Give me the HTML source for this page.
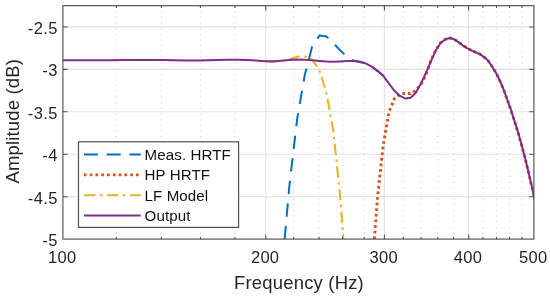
<!DOCTYPE html>
<html lang="en"><head><meta charset="utf-8"><title>HRTF amplitude plot</title>
<style>html,body{margin:0;padding:0;background:#fff;overflow:hidden}svg{display:block}</style>
</head><body>
<svg width="550" height="297" viewBox="0 0 550 297">
<rect width="550" height="297" fill="#fff"/>
<defs><clipPath id="ax"><rect x="62.90" y="5.70" width="471.00" height="233.40"/></clipPath></defs>
<path d="M265.75 5.70 V239.10 M384.41 5.70 V239.10 M468.60 5.70 V239.10 M62.90 26.92 H533.90 M62.90 69.35 H533.90 M62.90 111.79 H533.90 M62.90 154.23 H533.90 M62.90 196.66 H533.90" stroke="#e3e3e3" stroke-width="1.1" fill="none"/>
<path d="M116.26 239.55 V5.70 M161.37 239.55 V5.70 M200.45 239.55 V5.70 M234.92 239.55 V5.70 M293.64 239.55 V5.70 M319.10 239.55 V5.70 M342.53 239.55 V5.70 M364.22 239.55 V5.70 M403.29 239.55 V5.70 M421.04 239.55 V5.70 M437.76 239.55 V5.70 M453.59 239.55 V5.70 M482.88 239.55 V5.70 M496.49 239.55 V5.70 M509.50 239.55 V5.70 M521.95 239.55 V5.70" stroke="#d6d6d6" stroke-width="1.1" stroke-dasharray="1.3 4.38" fill="none"/>
<g clip-path="url(#ax)" fill="none" stroke-width="2.00" stroke-linejoin="round">
<path d="M281.33 276.00 L281.75 271.26 M282.58 261.98 L283.77 248.63 M284.60 239.35 L285.79 226.00 M286.61 216.72 L287.80 203.37 M288.63 194.09 L289.35 186.00 L289.96 180.75 M291.04 171.50 L292.59 158.19 M293.67 148.93 L295.22 135.62 M296.30 126.36 L297.15 119.00 L298.17 113.10 M299.76 103.91 L302.04 90.71 M303.63 81.53 L304.75 75.00 L306.47 68.44 M308.82 59.42 L312.16 46.60 L312.24 46.48 M317.36 38.69 L319.39 35.60 L326.44 36.40 L328.33 38.20 M334.95 44.76 L340.06 50.30 L344.32 54.32 M351.85 59.74 L353.07 60.50 L359.36 62.00 L364.74 63.14 M372.94 67.45 L377.47 70.85 L383.26 75.82" stroke="#0072bd"/>
<path d="M371.55 276.00 L371.58 275.65 M371.80 272.73 L372.01 270.04 M372.23 267.12 L372.43 264.42 M372.65 261.50 L372.86 258.81 M373.08 255.89 L373.28 253.20 M373.50 250.27 L373.71 247.58 M373.93 244.66 L374.13 241.97 M374.36 239.05 L374.56 236.35 M374.78 233.43 L374.99 230.74 M375.21 227.82 L375.41 225.13 M375.63 222.20 L375.84 219.51 M376.06 216.59 L376.26 213.90 M376.48 210.98 L376.69 208.28 M376.91 205.36 L377.11 202.67 M377.33 199.75 L377.47 198.00 L377.57 197.06 M377.89 194.15 L378.18 191.46 M378.50 188.55 L378.79 185.87 M379.11 182.95 L379.41 180.27 M379.72 177.36 L380.02 174.67 M380.34 171.76 L380.63 169.08 M380.95 166.16 L381.24 163.48 M381.56 160.57 L381.85 157.88 M382.17 154.97 L382.47 152.29 M382.78 149.37 L383.08 146.69 M383.47 143.79 L383.93 141.13 M384.43 138.24 L384.88 135.58 M385.38 132.69 L385.84 130.03 M386.34 127.14 L386.80 124.48 M387.29 121.59 L387.75 118.93 M388.25 116.05 L388.71 113.39 M389.53 110.59 L390.57 108.10 M391.69 105.39 L392.73 102.90 M393.86 100.20 L394.52 98.60 L395.26 97.97 M397.51 96.09 L399.57 94.35 M402.35 93.69 L405.03 93.34 M407.95 93.50 L410.63 93.70 L410.64 93.69 M413.09 92.09 L415.35 90.60 M417.38 88.52 L419.16 86.49 M421.04 84.25 L422.29 81.86 M423.66 79.26 L424.92 76.87 M426.17 74.23 L427.05 71.68 M428.00 68.91 L428.88 66.36 M429.84 63.59 L430.67 61.15 L430.73 61.04 M431.94 58.37 L433.05 55.91 M434.26 53.24 L435.37 50.78 M436.91 48.29 L438.36 46.01 M439.93 43.54 L440.27 43.02 L441.90 41.73 M444.19 39.91 L444.95 39.31 L446.60 38.78 M449.40 37.90 L449.56 37.85 L452.00 38.52 M454.71 39.53 L456.91 41.09 M459.30 42.79 L461.50 44.36 M463.91 46.02 L466.18 47.48 M468.72 48.94 L471.11 50.19 M473.78 51.41 L475.79 52.30 L476.25 52.50 M478.93 53.67 L479.94 54.11 L481.25 55.03 M483.65 56.72 L484.03 56.99 L485.70 58.47 M487.89 60.41 L488.07 60.57 L489.44 62.61 M491.07 65.05 L492.05 66.51 L492.54 67.31 M494.09 69.80 L495.52 72.09 M496.88 74.68 L498.05 77.11 M499.33 79.75 L499.85 80.83 L500.44 82.21 M501.58 84.91 L502.63 87.40 M503.76 90.10 L504.67 92.64 M505.66 95.40 L506.58 97.94 M507.57 100.70 L508.48 103.24 M509.47 106.00 L510.38 108.54 M511.35 111.30 L512.16 113.88 M513.04 116.67 L513.86 119.25 M514.74 122.04 L514.86 122.44 L515.55 124.62 M516.43 127.41 L517.23 129.99 M518.11 132.78 L518.50 134.01 L518.87 135.37 M519.64 138.20 L520.35 140.81 M521.11 143.63 L521.82 146.24 M522.58 149.07 L523.28 151.68 M524.03 154.51 L524.73 157.12 M525.48 159.95 L525.64 160.52 L526.12 162.57 M526.79 165.42 L527.41 168.05 M528.09 170.90 L528.71 173.53 M529.38 176.38 L529.98 179.01 M530.65 181.87 L531.25 184.50 M531.91 187.35 L532.52 189.98 M533.18 192.84 L533.78 195.47 M534.43 198.33 L535.03 200.96 M535.68 203.82 L536.03 205.34" stroke="#d95319" stroke-width="2.9"/>
<path d="M266.64 61.60 L273.09 61.90 L277.90 61.37 M282.26 60.83 L284.82 60.35 M289.19 59.53 L289.35 59.50 L297.15 56.80 L300.03 56.61 M304.42 56.32 L304.75 56.30 L306.82 57.22 M309.61 58.46 L312.16 59.60 L317.02 66.58 M319.46 70.23 L320.22 72.72 M321.53 76.97 L324.84 87.77 M326.13 91.98 L326.44 93.00 L326.72 94.51 M327.52 98.89 L329.56 110.00 M330.35 114.33 L330.82 116.89 M331.62 121.26 L333.33 130.60 L333.51 132.40 M333.96 136.78 L334.23 139.36 M334.69 143.79 L335.84 155.03 M336.29 159.41 L336.56 161.99 M337.01 166.42 L338.17 177.66 M338.62 182.04 L338.89 184.62 M339.34 189.05 L340.06 196.00 L340.39 200.30 M340.73 204.69 L340.93 207.28 M341.27 211.72 L342.14 222.98 M342.48 227.37 L342.68 229.96 M343.03 234.40 L343.90 245.67 M344.24 250.05 L344.44 252.64 M344.78 257.08 L345.65 268.35 M345.99 272.73 L346.19 275.33 M346.54 279.76 L346.63 281.00" stroke="#edb120"/>
<path d="M61.75 60.30 L78.48 60.26 L94.30 60.22 L109.32 60.17 L123.59 60.12 L137.21 60.08 L150.22 60.03 L162.67 60.04 L174.62 60.22 L186.10 60.39 L197.14 60.56 L207.78 60.37 L218.05 60.07 L227.97 59.78 L237.57 59.69 L246.86 59.92 L255.87 60.47 L264.60 61.17 L273.09 61.25 L281.33 60.66 L289.35 60.08 L297.15 59.51 L304.75 59.69 L312.16 60.31 L319.39 60.97 L326.44 61.57 L333.33 61.87 L340.06 61.50 L346.63 61.08 L353.07 60.92 L359.36 61.49 L365.52 63.33 L371.55 66.42 L377.47 70.85 L383.26 75.82 L388.94 83.62 L394.52 90.76 L399.99 95.95 L405.36 98.57 L410.63 97.69 L415.81 92.82 L420.90 83.57 L425.90 73.02 L430.82 61.30 L435.66 50.63 L440.42 43.17 L445.10 39.46 L449.71 38.00 L454.25 39.25 L458.72 42.41 L463.12 45.55 L467.45 48.35 L471.72 50.58 L475.94 52.45 L480.09 54.26 L484.18 57.14 L488.22 60.72 L492.20 66.66 L496.13 72.97 L500.00 80.98 L503.83 90.03 L507.60 100.53 L511.33 110.93 L515.01 122.59 L518.65 134.16 L522.24 147.37 L525.79 160.67 L529.29 175.52 L532.75 190.48 L536.18 205.49" stroke="#7e2f8e"/>
</g>
<path d="M265.75 239.10 v-4.70 M265.75 5.70 v4.70 M384.41 239.10 v-4.70 M384.41 5.70 v4.70 M468.60 239.10 v-4.70 M468.60 5.70 v4.70 M116.26 239.10 v-2.40 M116.26 5.70 v2.40 M161.37 239.10 v-2.40 M161.37 5.70 v2.40 M200.45 239.10 v-2.40 M200.45 5.70 v2.40 M234.92 239.10 v-2.40 M234.92 5.70 v2.40 M293.64 239.10 v-2.40 M293.64 5.70 v2.40 M319.10 239.10 v-2.40 M319.10 5.70 v2.40 M342.53 239.10 v-2.40 M342.53 5.70 v2.40 M364.22 239.10 v-2.40 M364.22 5.70 v2.40 M403.29 239.10 v-2.40 M403.29 5.70 v2.40 M421.04 239.10 v-2.40 M421.04 5.70 v2.40 M437.76 239.10 v-2.40 M437.76 5.70 v2.40 M453.59 239.10 v-2.40 M453.59 5.70 v2.40 M482.88 239.10 v-2.40 M482.88 5.70 v2.40 M496.49 239.10 v-2.40 M496.49 5.70 v2.40 M509.50 239.10 v-2.40 M509.50 5.70 v2.40 M521.95 239.10 v-2.40 M521.95 5.70 v2.40 M62.90 26.92 h4.70 M533.90 26.92 h-4.70 M62.90 69.35 h4.70 M533.90 69.35 h-4.70 M62.90 111.79 h4.70 M533.90 111.79 h-4.70 M62.90 154.23 h4.70 M533.90 154.23 h-4.70 M62.90 196.66 h4.70 M533.90 196.66 h-4.70" stroke="#505050" stroke-width="1.05" fill="none"/>
<rect x="62.90" y="5.70" width="471.00" height="233.40" fill="none" stroke="#505050" stroke-width="1.15"/>
<g font-family="Liberation Sans, Arial, Helvetica, sans-serif" fill="#262626">
<g font-size="16.50" text-anchor="end" letter-spacing="0.4">
<text x="57.8" y="33.82">-2.5</text>
<text x="57.8" y="76.25">-3</text>
<text x="57.8" y="118.69">-3.5</text>
<text x="57.8" y="161.13">-4</text>
<text x="57.8" y="203.56">-4.5</text>
<text x="57.8" y="246.00">-5</text>
</g>
<g font-size="16.50" text-anchor="middle" letter-spacing="0.3">
<text x="62.30" y="263.2">100</text>
<text x="265.15" y="263.2">200</text>
<text x="383.81" y="263.2">300</text>
<text x="468.00" y="263.2">400</text>
<text x="533.30" y="263.2">500</text>
</g>
<text x="299.0" y="289.4" font-size="18.45" letter-spacing="0.2" text-anchor="middle">Frequency (Hz)</text>
<text transform="translate(19.4 121.2) rotate(-90)" font-size="18.45" letter-spacing="0.18" text-anchor="middle">Amplitude (dB)</text>
<rect x="78.5" y="141.8" width="160.1" height="85.6" fill="#fff" stroke="#505050" stroke-width="1.2"/>
<g font-size="15.1" letter-spacing="0.1" fill="#111">
<text x="144.6" y="159.70">Meas. HRTF</text>
<text x="144.6" y="180.20">HP HRTF</text>
<text x="144.6" y="200.60">LF Model</text>
<text x="144.6" y="220.90">Output</text>
</g>
</g>
<g fill="none" stroke-width="2.00">
<path d="M84 154.40 H140.8" stroke="#0072bd" stroke-dasharray="14 8.7"/>
<path d="M83.9 174.90 H140.8" stroke="#d95319" stroke-width="2.8" stroke-dasharray="2.7 3.09"/>
<path d="M84 195.30 H140.8" stroke="#edb120" stroke-dasharray="11.4 4.4 2.6 4.6"/>
<path d="M84 215.60 H140.8" stroke="#7e2f8e"/>
</g>
</svg>
</body></html>
